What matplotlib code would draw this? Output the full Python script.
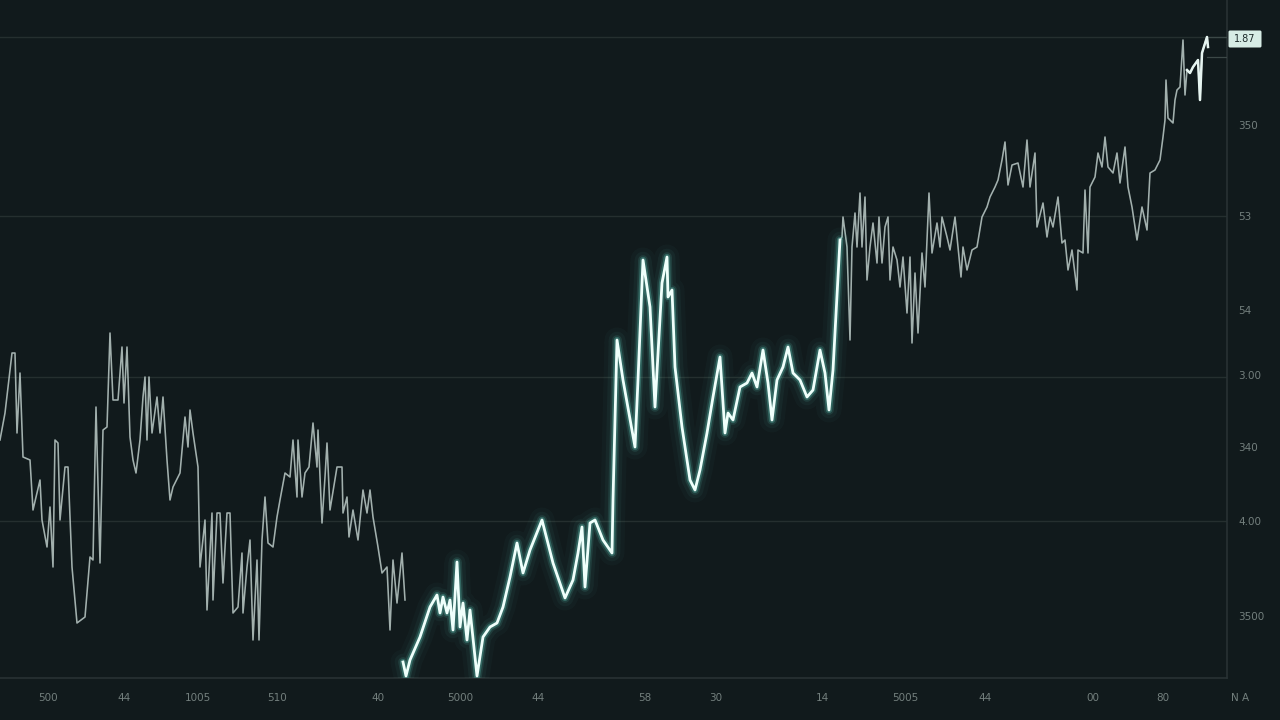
import numpy as np
import matplotlib.pyplot as plt
from matplotlib.patches import FancyBboxPatch

bg = '#111a1c'

# left part of the series (thin trace)
x_left = [0, 5, 12, 15, 17, 20, 23, 30, 33, 40, 42, 47, 50, 53, 55, 58, 60, 65, 68, 72,
          77, 85, 90, 93, 96, 100, 103, 107, 110, 113, 118, 122, 124, 127, 130, 133, 136, 140, 143, 145,
          147, 149, 152, 157, 160, 163, 167, 170, 173, 180, 185, 188, 190, 193, 198, 200, 205, 207, 212, 213,
          217, 220, 223, 227, 230, 233, 238, 242, 243, 247, 250, 253, 257, 259, 262, 265, 268, 273, 277, 280,
          285, 290, 293, 297, 298, 302, 305, 309, 313, 317, 318, 322, 325, 327, 330, 337, 342, 343, 347, 349,
          353, 358, 363, 367, 370, 373, 378, 382, 387, 390, 393, 397, 402, 405]
y_left = [238, 265, 325, 325, 245, 305, 221, 218, 168, 198, 158, 131, 171, 111, 238, 235, 158, 211, 211, 111,
          55, 61, 121, 118, 271, 115, 248, 251, 345, 278, 278, 331, 275, 331, 241, 218, 205, 238, 281, 301,
          238, 301, 245, 281, 245, 281, 218, 178, 191, 205, 261, 231, 268, 245, 211, 111, 158, 68, 165, 78,
          165, 165, 95, 165, 165, 65, 71, 125, 65, 111, 138, 38, 118, 38, 138, 181, 135, 131, 161, 178,
          205, 201, 238, 181, 238, 181, 205, 211, 255, 211, 248, 155, 201, 235, 168, 211, 211, 165, 181, 141,
          168, 138, 188, 165, 188, 161, 131, 105, 111, 48, 118, 75, 125, 78]

# highlighted middle part (glowing trace)
x_mid = [403, 406, 410, 420, 430, 437, 440, 443, 447, 450, 453, 457, 460, 463, 467, 470, 477, 483, 490, 497,
         503, 510, 517, 523, 530, 542, 553, 565, 573, 578, 582, 585, 590, 595, 603, 612, 613, 617, 623, 635,
         638, 643, 650, 655, 662, 667, 668, 672, 675, 682, 690, 695, 700, 707, 713, 720, 725, 728, 733, 740,
         747, 752, 757, 763, 768, 772, 777, 783, 788, 793, 800, 807, 813, 820, 825, 829, 833, 840]
y_mid = [16, 2, 18, 41, 71, 83, 65, 81, 65, 78, 48, 116, 51, 75, 38, 68, 2, 41, 51, 55,
         71, 101, 135, 105, 128, 158, 115, 80, 98, 125, 151, 91, 155, 158, 138, 125, 178, 338, 298, 231,
         298, 418, 371, 271, 395, 421, 381, 388, 311, 251, 198, 188, 208, 245, 281, 321, 245, 265, 258, 291,
         295, 305, 291, 328, 295, 258, 298, 311, 331, 305, 298, 281, 288, 328, 305, 268, 308, 438]

# right part of the series (thin trace)
x_right = [840, 842, 843, 847, 850, 852, 855, 857, 860, 862, 865, 867, 870, 873, 877, 879, 882, 885, 888, 890,
           893, 897, 900, 903, 907, 910, 912, 915, 918, 922, 925, 929, 932, 937, 940, 942, 947, 950, 955, 958,
           961, 963, 967, 972, 977, 982, 987, 990, 995, 998, 1002, 1005, 1008, 1012, 1018, 1023, 1027, 1030, 1035, 1037,
           1043, 1047, 1050, 1053, 1058, 1062, 1065, 1068, 1072, 1077, 1078, 1083, 1085, 1088, 1090, 1095, 1098, 1102, 1105, 1108,
           1113, 1117, 1120, 1125, 1128, 1132, 1137, 1142, 1147, 1150, 1155, 1160, 1163, 1165, 1166, 1168, 1173, 1175, 1177, 1180,
           1183, 1185, 1187, 1190, 1193, 1198, 1200, 1202, 1207, 1208]
y_right = [438, 441, 461, 431, 338, 431, 465, 431, 485, 431, 481, 398, 431, 455, 415, 461, 415, 451, 461, 398,
           431, 418, 391, 421, 365, 421, 335, 405, 345, 425, 391, 485, 425, 455, 431, 461, 441, 428, 461, 431,
           401, 431, 408, 428, 431, 461, 471, 481, 491, 498, 518, 536, 493, 513, 515, 491, 538, 491, 525, 451,
           475, 441, 461, 451, 481, 435, 438, 408, 428, 388, 428, 425, 488, 425, 491, 501, 525, 511, 541, 511,
           505, 525, 495, 531, 491, 471, 438, 471, 448, 505, 508, 518, 541, 558, 598, 560, 555, 578, 588, 591,
           638, 583, 608, 605, 611, 618, 578, 625, 641, 631]

y_ticks = [553, 462, 368, 303, 231, 157, 62]
y_labels = ['350', '53', '54', '3.00', '340', '4.00', '3500']
grid_levels = [641, 462, 301, 157]

x_ticks = [48, 124, 198, 277, 378, 460, 538, 645, 716, 822, 905, 985, 1093, 1163, 1240]
x_labels = ['500', '44', '1005', '510', '40', '5000', '44', '58', '30', '14', '5005', '44', '00', '80', 'N A']

last_price = '1.87'

fig = plt.figure(figsize=(12.8, 7.2), dpi=100, facecolor=bg)
ax = fig.add_axes([0, 42 / 720, 1227 / 1280, 678 / 720], facecolor=bg)
ax.set_xlim(0, 1227)
ax.set_ylim(0, 678)

for g in grid_levels:
    ax.axhline(g, color='#252f2f', lw=1.0, zorder=1)

ax.plot(x_left, y_left, color='#bccbc8', lw=1.15, alpha=0.85, zorder=3)
ax.plot(x_right, y_right, color='#bccbc8', lw=1.15, alpha=0.85, zorder=3)
ax.plot(x_right[-8:], y_right[-8:], color='#e6f4f0', lw=1.8, zorder=4)

# glow around the middle trace
for lw, a in [(18, 0.03), (12, 0.05), (7, 0.12), (4.5, 0.28)]:
    ax.plot(x_mid, y_mid, color='#67d8c6', lw=lw, alpha=a, solid_capstyle='round',
            solid_joinstyle='round', zorder=5)
ax.plot(x_mid, y_mid, color='#effffb', lw=2.0, solid_joinstyle='round', zorder=6)

# small marker frame near the last value
ax.plot([1207, 1227], [641, 641], color='#3c4847', lw=0.9, zorder=3)
ax.plot([1207, 1227], [621, 621], color='#3c4847', lw=0.9, zorder=3)

for s in ['top', 'left']:
    ax.spines[s].set_visible(False)
ax.spines['right'].set_color('#283234')
ax.spines['bottom'].set_color('#283234')
ax.spines['right'].set_linewidth(1.2)
ax.spines['bottom'].set_linewidth(1.2)

ax.yaxis.tick_right()
ax.set_yticks(y_ticks, y_labels)
ax.set_xticks(x_ticks[:-1], x_labels[:-1])
ax.tick_params(axis='both', length=0, colors='#737f7d', labelsize=7.5)
ax.tick_params(axis='y', pad=8)
ax.tick_params(axis='x', pad=11)
ax.text(x_ticks[-1], -20, x_labels[-1], color='#737f7d', fontsize=7.5,
        ha='center', va='center', clip_on=False)

box = FancyBboxPatch((1230, 632), 30, 14, boxstyle='round,pad=1.5', transform=ax.transData,
                     facecolor='#d7ece5', edgecolor='none', clip_on=False, zorder=7)
ax.add_patch(box)
ax.text(1245, 639, last_price, color='#1d2a2a', fontsize=7, ha='center', va='center',
        clip_on=False, zorder=8)

plt.savefig('out.png', dpi=100, facecolor=bg)
